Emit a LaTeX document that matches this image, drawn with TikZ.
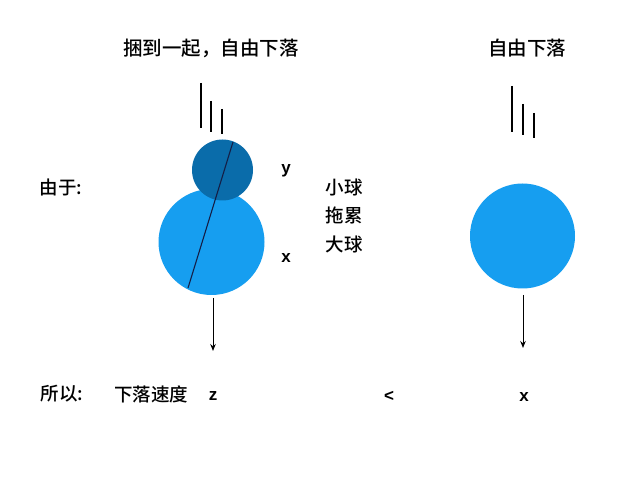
\documentclass[tikz,border=0pt]{standalone}
\usepackage{fontspec}
\setmainfont{Liberation Sans}
\newfontfamily\cjk{Noto Sans CJK SC}[UprightFont=* Medium]
\usetikzlibrary{arrows.meta}
\definecolor{bigblue}{RGB}{22,158,240}
\definecolor{smallblue}{RGB}{10,108,170}
\definecolor{rodcol}{RGB}{20,30,70}
\tikzset{
  ball/.style={circle, inner sep=0pt, draw=none},
  cn/.style={font=\cjk\fontsize{18.5}{22}\selectfont, inner sep=0pt, anchor=center},
  cnt/.style={font=\cjk\fontsize{19.5}{22}\selectfont, inner sep=0pt, anchor=center},
  lat/.style={font=\bfseries\fontsize{17}{20}\selectfont, inner sep=0pt, anchor=center},
  fall/.style={line width=1.3pt, black},
  motion/.style={line width=1pt, black, -{Stealth[length=7pt,width=5.5pt]}},
}
\begin{document}
\begin{tikzpicture}[x=1pt,y=-1pt]
\useasboundingbox (0,0) rectangle (640,486);
\fill[white] (0,0) rectangle (640,486);
% titles
\node[cnt] (t1) at (211,48) {捆到一起，自由下落};
\node[cnt] (t2) at (527,48) {自由下落};
% falling lines left
\coordinate (a1) at (201,83); \coordinate (a2) at (201,128);
\coordinate (b1) at (211,101); \coordinate (b2) at (211,132);
\coordinate (c1) at (222,109); \coordinate (c2) at (222,134);
\draw[fall] (a1) -- (a2); \draw[fall] (b1) -- (b2); \draw[fall] (c1) -- (c2);
% falling lines right
\coordinate (d1) at (512,86); \coordinate (d2) at (512,132);
\coordinate (e1) at (523,104); \coordinate (e2) at (523,135);
\coordinate (f1) at (534,113); \coordinate (f2) at (534,138);
\draw[fall] (d1) -- (d2); \draw[fall] (e1) -- (e2); \draw[fall] (f1) -- (f2);
% balls
\node[ball, fill=bigblue, minimum size=106pt] (big) at (211.5,242) {};
\node[ball, fill=smallblue, minimum size=61pt] (small) at (222.5,170) {};
\node[ball, fill=bigblue, minimum size=105pt] (right) at (522.5,236) {};
% rod
\coordinate (r1) at (233,142); \coordinate (r2) at (188,288);
\draw[rodcol, line width=1.1pt] (r1) -- (r2);
% motion arrows
\coordinate (m1) at (213,298); \coordinate (m2) at (213,351);
\coordinate (n1) at (523,295); \coordinate (n2) at (523,348);
\draw[motion] (m1) -- (m2);
\draw[motion] (n1) -- (n2);
% labels
\node[cn] (because) at (61,187) {由于:};
\node[lat] (ly) at (286,171) {y};
\node[lat] (lx) at (286,258) {x};
\node[cn] (s1) at (344,187) {小球};
\node[cn] (s2) at (344,215) {拖累};
\node[cn] (s3) at (344,244) {大球};
% bottom row
\node[cn] (so) at (62,394) {所以:};
\node[cn] (speed) at (151,394) {下落速度};
\node[lat] (lz) at (213,396) {z};
\node[lat] (lt) at (389,396) {<};
\node[lat] (lx2) at (524,397) {x};
\end{tikzpicture}
\end{document}
